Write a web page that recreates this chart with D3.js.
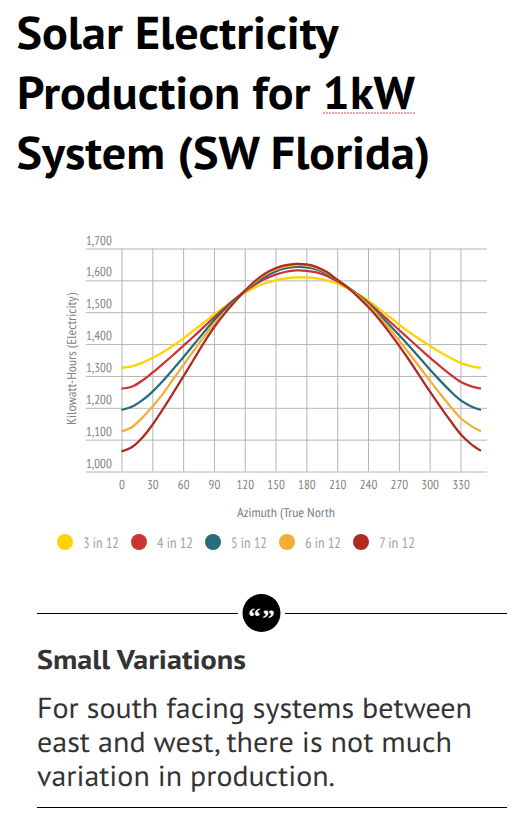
<!DOCTYPE html>
<html>
<head>
<meta charset="utf-8">
<script src="https://cdn.jsdelivr.net/npm/d3@7"></script>
<style>
  html, body { margin: 0; padding: 0; background: #fff; }
  svg { display: block; }
  text { text-rendering: geometricPrecision; }
</style>
</head>
<body>
<div id="chart"></div>
<script>
const azimuth = d3.range(0, 351, 10);
const xTicks = [0, 30, 60, 90, 120, 150, 180, 210, 240, 270, 300, 330];
const yTicks = [1000, 1100, 1200, 1300, 1400, 1500, 1600, 1700];

const pitch3 = [1325, 1330, 1341, 1356, 1374, 1394, 1417, 1442, 1467, 1492, 1516, 1540, 1561, 1578, 1591, 1600, 1606, 1609, 1609, 1606, 1600, 1590, 1575, 1557, 1537, 1513, 1488, 1462, 1438, 1416, 1395, 1375, 1357, 1341, 1331, 1325];
const pitch4 = [1260, 1266, 1285, 1310, 1337, 1365, 1394, 1423, 1453, 1483, 1512, 1540, 1565, 1587, 1605, 1618, 1627, 1631, 1630, 1625, 1614, 1597, 1578, 1556, 1531, 1503, 1474, 1445, 1416, 1387, 1358, 1331, 1305, 1282, 1268, 1260];
const pitch5 = [1193, 1203, 1223, 1250, 1283, 1320, 1358, 1397, 1436, 1474, 1507, 1538, 1566, 1591, 1612, 1628, 1638, 1642, 1641, 1634, 1620, 1600, 1579, 1555, 1527, 1496, 1463, 1429, 1394, 1358, 1321, 1286, 1253, 1224, 1205, 1193];
const pitch6 = [1126, 1139, 1168, 1203, 1243, 1288, 1333, 1378, 1422, 1463, 1499, 1533, 1566, 1595, 1618, 1634, 1644, 1648, 1647, 1639, 1624, 1602, 1579, 1553, 1523, 1489, 1452, 1412, 1371, 1329, 1286, 1245, 1205, 1168, 1144, 1126];
const pitch7 = [1063, 1076, 1105, 1146, 1194, 1245, 1297, 1350, 1403, 1452, 1494, 1532, 1567, 1598, 1622, 1638, 1648, 1652, 1650, 1642, 1626, 1602, 1578, 1549, 1517, 1481, 1440, 1396, 1350, 1301, 1252, 1205, 1160, 1118, 1087, 1065];

const names = ['3 in 12', '4 in 12', '5 in 12', '6 in 12', '7 in 12'];
const colors = ['#ffd200', '#cc3333', '#276c7c', '#f4ae36', '#ae2b20'];
const series = [pitch3, pitch4, pitch5, pitch6, pitch7];

const sans = '"PT Sans", "Noto Sans", sans-serif';
const narrow = '"PT Sans Narrow", "Liberation Sans Narrow", "Noto Sans", sans-serif';

const svg = d3.select('#chart').append('svg')
  .attr('width', 531)
  .attr('height', 826);

// text squeezed to the width it has in the picture
function label(txt, x, y, width, size, weight, fill, family) {
  return svg.append('text')
    .attr('x', x)
    .attr('y', y)
    .attr('textLength', width)
    .attr('lengthAdjust', 'spacingAndGlyphs')
    .style('font-family', family || sans)
    .style('font-size', size + 'px')
    .style('font-weight', weight)
    .style('fill', fill)
    .text(txt);
}

label('Solar Electricity', 16.5, 49, 322, 46, 700, '#000');
label('Production for 1kW', 17, 109, 398, 46, 700, '#000');
label('System (SW Florida)', 16.5, 169, 414, 46, 700, '#000');
// spell check squiggle under 1kW
svg.append('line').attr('x1', 323).attr('x2', 415).attr('y1', 113).attr('y2', 113)
  .attr('stroke', '#e8444c').attr('stroke-width', 1).attr('stroke-dasharray', '2 1');

const x = d3.scaleLinear().domain([0, 350]).range([121.5, 481]);
const y = d3.scaleLinear().domain([1000, 1700]).range([471.5, 248.5]);

const xAxis = d3.axisBottom(x)
  .tickValues(xTicks)
  .tickSize(-(471.5 - 248.5))
  .tickSizeOuter(0)
  .tickPadding(8);

const yAxis = d3.axisLeft(y)
  .tickValues(yTicks)
  .tickFormat(d3.format(','))
  .tickSize(0);

const gx = svg.append('g').attr('transform', 'translate(0,471.5)').call(xAxis);
gx.select('.domain').remove();
gx.selectAll('line').attr('stroke', '#b4b4b4');
gx.selectAll('text')
  .style('font-family', narrow)
  .style('font-size', '13px')
  .style('fill', '#8a8078');

const gy = svg.append('g').call(yAxis);
gy.select('.domain').remove();
gy.selectAll('line')
  .attr('x1', 86)
  .attr('x2', 487)
  .attr('stroke', '#b4b4b4');
gy.selectAll('text')
  .attr('x', 86)
  .attr('dy', -4.5)
  .attr('text-anchor', 'start')
  .style('font-family', narrow)
  .style('font-size', '13px')
  .style('fill', '#8a8078');

const line = d3.line()
  .x((d, i) => x(azimuth[i]))
  .y(d => y(d))
  .curve(d3.curveCatmullRom);

svg.append('g').selectAll('path')
  .data(series)
  .join('path')
  .attr('fill', 'none')
  .attr('stroke', (d, i) => colors[i])
  .attr('stroke-width', 2.25)
  .attr('d', line);

label('Azimuth (True North', 237, 516.5, 98, 13, 400, '#78808c', narrow);
label('Kilowatt-Hours (Electricity)', 0, 0, 132, 13, 400, '#8a8078', narrow)
  .attr('text-anchor', 'middle')
  .attr('transform', 'translate(75.5,359) rotate(-90)');

const legendX = d3.scalePoint().domain(names).range([65, 361]);

svg.append('g').selectAll('circle')
  .data(names)
  .join('circle')
  .attr('cx', d => legendX(d))
  .attr('cy', 542)
  .attr('r', 8)
  .attr('fill', (d, i) => colors[i]);

names.forEach(n => {
  label(n, legendX(n) + 18, 547.5, 36, 15, 400, '#a8a29a', narrow);
});

// quote divider
svg.append('line').attr('x1', 37).attr('x2', 238).attr('y1', 613.5).attr('y2', 613.5)
  .attr('stroke', '#000').attr('stroke-width', 1);
svg.append('line').attr('x1', 285).attr('x2', 507).attr('y1', 613.5).attr('y2', 613.5)
  .attr('stroke', '#000').attr('stroke-width', 1);
svg.append('circle').attr('cx', 261.5).attr('cy', 613).attr('r', 19).attr('fill', '#000');
[['\u201c', 254.5, 625], ['\u201d', 268.5, 627]].forEach(q => {
  svg.append('text')
    .attr('x', q[1])
    .attr('y', q[2])
    .attr('text-anchor', 'middle')
    .style('font-family', '"Liberation Serif", serif')
    .style('font-size', '25px')
    .style('font-weight', 700)
    .style('fill', '#fff')
    .text(q[0]);
});

label('Small Variations', 37, 668.5, 209, 27, 700, '#333');
label('For south facing systems between', 37, 717.5, 435, 29, 400, '#333');
label('east and west, there is not much', 37, 751.5, 415, 29, 400, '#333');
label('variation in production.', 37, 785.5, 298, 29, 400, '#333');

svg.append('line').attr('x1', 37).attr('x2', 507).attr('y1', 807.5).attr('y2', 807.5)
  .attr('stroke', '#000').attr('stroke-width', 1);
</script>
</body>
</html>
